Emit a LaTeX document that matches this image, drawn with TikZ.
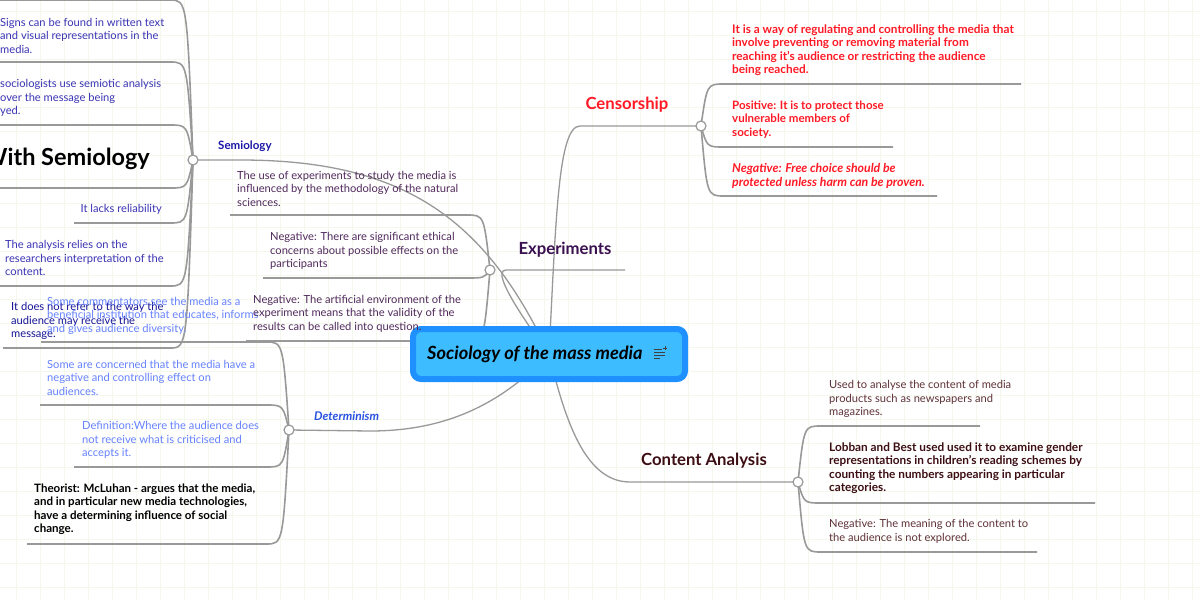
\documentclass[tikz,border=0pt]{standalone}
\usepackage{fontspec}
\setmainfont{Lato}
\usetikzlibrary{calc}
\definecolor{gridc}{HTML}{F3F7EC}
\definecolor{branchc}{HTML}{999999}
\definecolor{semic}{HTML}{3B34B4}
\definecolor{semid}{HTML}{1A17A8}
\definecolor{detc}{HTML}{6682FF}
\definecolor{detd}{HTML}{2A52E0}
\definecolor{expc}{HTML}{512A5C}
\definecolor{expd}{HTML}{3B1050}
\definecolor{cenc}{HTML}{FF1A26}
\definecolor{conc}{HTML}{5F3238}
\definecolor{cond}{HTML}{3D0F14}
\definecolor{rootb}{HTML}{1E90FF}
\definecolor{rootf}{HTML}{3DBDFF}
\tikzset{
	leaf/.style={anchor=west, align=left, inner sep=0pt, yshift=-1pt, font=\fontsize{11.15}{13.5}\selectfont},
	leafb/.style={leaf, font=\fontsize{11.8}{13.5}\selectfont\bfseries},
	leafc/.style={leaf, font=\fontsize{11.55}{13.5}\selectfont\bfseries},
	leafi/.style={leaf, font=\fontsize{12.3}{13.5}\selectfont\bfseries\itshape},
	title/.style={anchor=center, inner sep=0pt, font=\fontsize{16.7}{18}\selectfont\bfseries},
	hub/.style={circle, draw=branchc, fill=white, line width=1.2pt, minimum size=10pt, inner sep=0pt},
	branch/.style={draw=branchc, line width=1.6pt},
	stem/.style={draw=branchc, line width=1.3pt},
	root/.style={draw=rootb, fill=rootf, line width=6pt, rounded corners=8pt, minimum width=272pt, minimum height=50pt}
}
% hub to the left end of an underline, then along it
\newcommand{\pLeft}[2]{\draw[branch] let \p1 = (#1), \p2 = (#2) in (\p1) .. controls (\x1-6,\y2) and (\x1-6,\y2) .. (\x1-23,\y2) -- (\p2)}
\newcommand{\pRight}[2]{\draw[branch] let \p1 = (#1), \p2 = (#2) in (\p1) .. controls (\x1+6,\y2) and (\x1+6,\y2) .. (\x1+23,\y2) -- (\p2)}

\begin{document}
\begin{tikzpicture}[x=1pt,y=-1pt]
\useasboundingbox (0,0) rectangle (1200,600);

\fill[white] (0,0) rectangle (1200,600);
\foreach \gx in {0,...,49} \draw[gridc, line width=1pt] (16+24*\gx,0) -- (16+24*\gx,600);
\foreach \gy in {0,...,24} \draw[gridc, line width=1pt] (0,11.5+24*\gy) -- (1200,11.5+24*\gy);

% hubs and ends of the underlines
\coordinate (rootC) at (549,354);
\coordinate (S1) at (-2,0);
\coordinate (S2) at (-2,62);
\coordinate (S3) at (-2,125);
\coordinate (S4) at (-2,188);
\coordinate (S5) at (74,223);
\coordinate (S6) at (-2,286);
\coordinate (S7) at (3,348);
\coordinate (D1) at (41,342);
\coordinate (D2) at (40,405);
\coordinate (D3) at (74,467);
\coordinate (D4) at (27,544);
\coordinate (E1) at (230,215);
\coordinate (E2) at (263,278);
\coordinate (E3) at (246,341);
\coordinate (E0) at (625,270);
\coordinate (C1) at (1021,84);
\coordinate (C2) at (893,147);
\coordinate (C3) at (937,196);
\coordinate (A1) at (980,426);
\coordinate (A2) at (1095,503);
\coordinate (A3) at (1037,552);

\coordinate (semi) at (193,160);
\coordinate (expe) at (490,270);
\coordinate (cens) at (701,126);
\coordinate (dete) at (289,430);
\coordinate (cont) at (798,482);

% main branches
\draw[stem] (semi) -- (240,160) .. controls (400,160) and (484,215) .. (rootC);
\draw[stem] (E0) -- (506,270) .. controls (496,270) and (502,290) .. (rootC);
\draw[stem] (rootC) .. controls (556,220) and (558,126) .. (580,126) -- (cens);
\draw[stem] (rootC) .. controls (565,420) and (585,482) .. (630,482) -- (cont);
\draw[stem] (rootC) .. controls (500,405) and (445,431) .. (370,431) -- (dete);

% leaves
\pLeft{semi}{S1};
\pLeft{semi}{S2};
\pLeft{semi}{S3};
\pLeft{semi}{S4};
\pLeft{semi}{S5};
\pLeft{semi}{S6};
\pLeft{semi}{S7};

\pLeft{dete}{D1};
\pLeft{dete}{D2};
\pLeft{dete}{D3};
\pLeft{dete}{D4};

\pLeft{expe}{E1};
\pLeft{expe}{E2};
\pLeft{expe}{E3};

\pRight{cens}{C1};
\pRight{cens}{C2};
\pRight{cens}{C3};

\pRight{cont}{A1};
\pRight{cont}{A2};
\pRight{cont}{A3};

\node[hub] (semiH) at (semi) {};
\node[hub] (expeH) at (expe) {};
\node[hub] (censH) at (cens) {};
\node[hub] (deteH) at (dete) {};
\node[hub] (contH) at (cont) {};

\node[root] (R) at (549,354) {};
\node[anchor=west, inner sep=0pt, font=\fontsize{18.2}{20}\selectfont\bfseries\itshape] (Rt) at (427,354.5) {Sociology of the mass media};
\draw[line width=1pt, black!75] (654,349) -- (662,349) (654,352) -- (665,352) (654,355) -- (665,355) (654,358) -- (660,358);
\draw[line width=.7pt, black!75] (665,346) -- (665,350) (663,348) -- (667,348);

\node[leaf, text=semic] (s1) at (0,34.5) {Signs can be found in written text\\and visual representations in the\\media.};
\node[leaf, text=semic] (s2) at (0,97) {sociologists use semiotic analysis\\over the message being\\yed.};
\node[anchor=east, inner sep=0pt, font=\fontsize{23.5}{28}\selectfont\bfseries] (s3) at (150,159) {With Semiology};
\node[leaf, anchor=east, text=semic] (s4) at (162,208) {It lacks reliability};
\node[leaf, text=semic] (s5) at (5,257) {The analysis relies on the\\researchers interpretation of the\\content.};
\node[leaf, text=semid!90!black] (s6) at (11,320) {It does not refer to the way the\\audience may receive the\\message.};
\node[leafc, text=semid] (semiL) at (218,145) {Semiology};

\node[leaf, text=detc] (d1) at (47,314.5) {Some commentators see the media as a\\beneficial institution that educates, informs\\and gives audience diversity.};
\node[leaf, text=detc] (d2) at (47,376.5) {Some are concerned that the media have a\\negative and controlling effect on\\audiences.};
\node[leaf, text=detc] (d3) at (82,439) {Definition:Where the audience does\\not receive what is criticised and\\accepts it.};
\node[leafc, text=black] (d4) at (34,508) {Theorist: McLuhan - argues that the media,\\and in particular new media technologies,\\have a determining influence of social\\change.};
\node[leafi, font=\fontsize{12}{13.5}\selectfont\bfseries\itshape, text=detd] (deteL) at (314,415) {Determinism};

\node[leaf, text=expc] (e1) at (237,187.5) {The use of experiments to study the media is\\influenced by the methodology of the natural\\sciences.};
\node[leaf, text=expc] (e2) at (270,250) {Negative: There are significant ethical\\concerns about possible effects on the\\participants};
\node[leaf, text=expc] (e3) at (253,312.5) {Negative: The artificial environment of the\\experiment means that the validity of the\\results can be called into question.};
\node[title, text=expd] (expeL) at (565,250) {Experiments};

\node[title, text=cenc] (censL) at (627,105) {Censorship};
\node[leafb, text=cenc] (c1) at (732,49) {It is a way of regulating and controlling the media that\\involve preventing or removing material from\\reaching it's audience or restricting the audience\\being reached.};
\node[leafc, text=cenc] (c2) at (732,118.5) {Positive: It is to protect those\\vulnerable members of\\society.};
\node[leafi, text=cenc] (c3) at (732,175) {Negative: Free choice should be\\protected unless harm can be proven.};

\node[title, text=cond] (contL) at (704,460.5) {Content Analysis};
\node[leaf, text=conc] (a1) at (829,398) {Used to analyse the content of media\\products such as newspapers and\\magazines.};
\node[leafb, text=cond] (a2) at (829,467) {Lobban and Best used used it to examine gender\\representations in children's reading schemes by\\counting the numbers appearing in particular\\categories.};
\node[leaf, text=conc] (a3) at (829,530.5) {Negative: The meaning of the content to\\the audience is not explored.};

\end{tikzpicture}
\end{document}
